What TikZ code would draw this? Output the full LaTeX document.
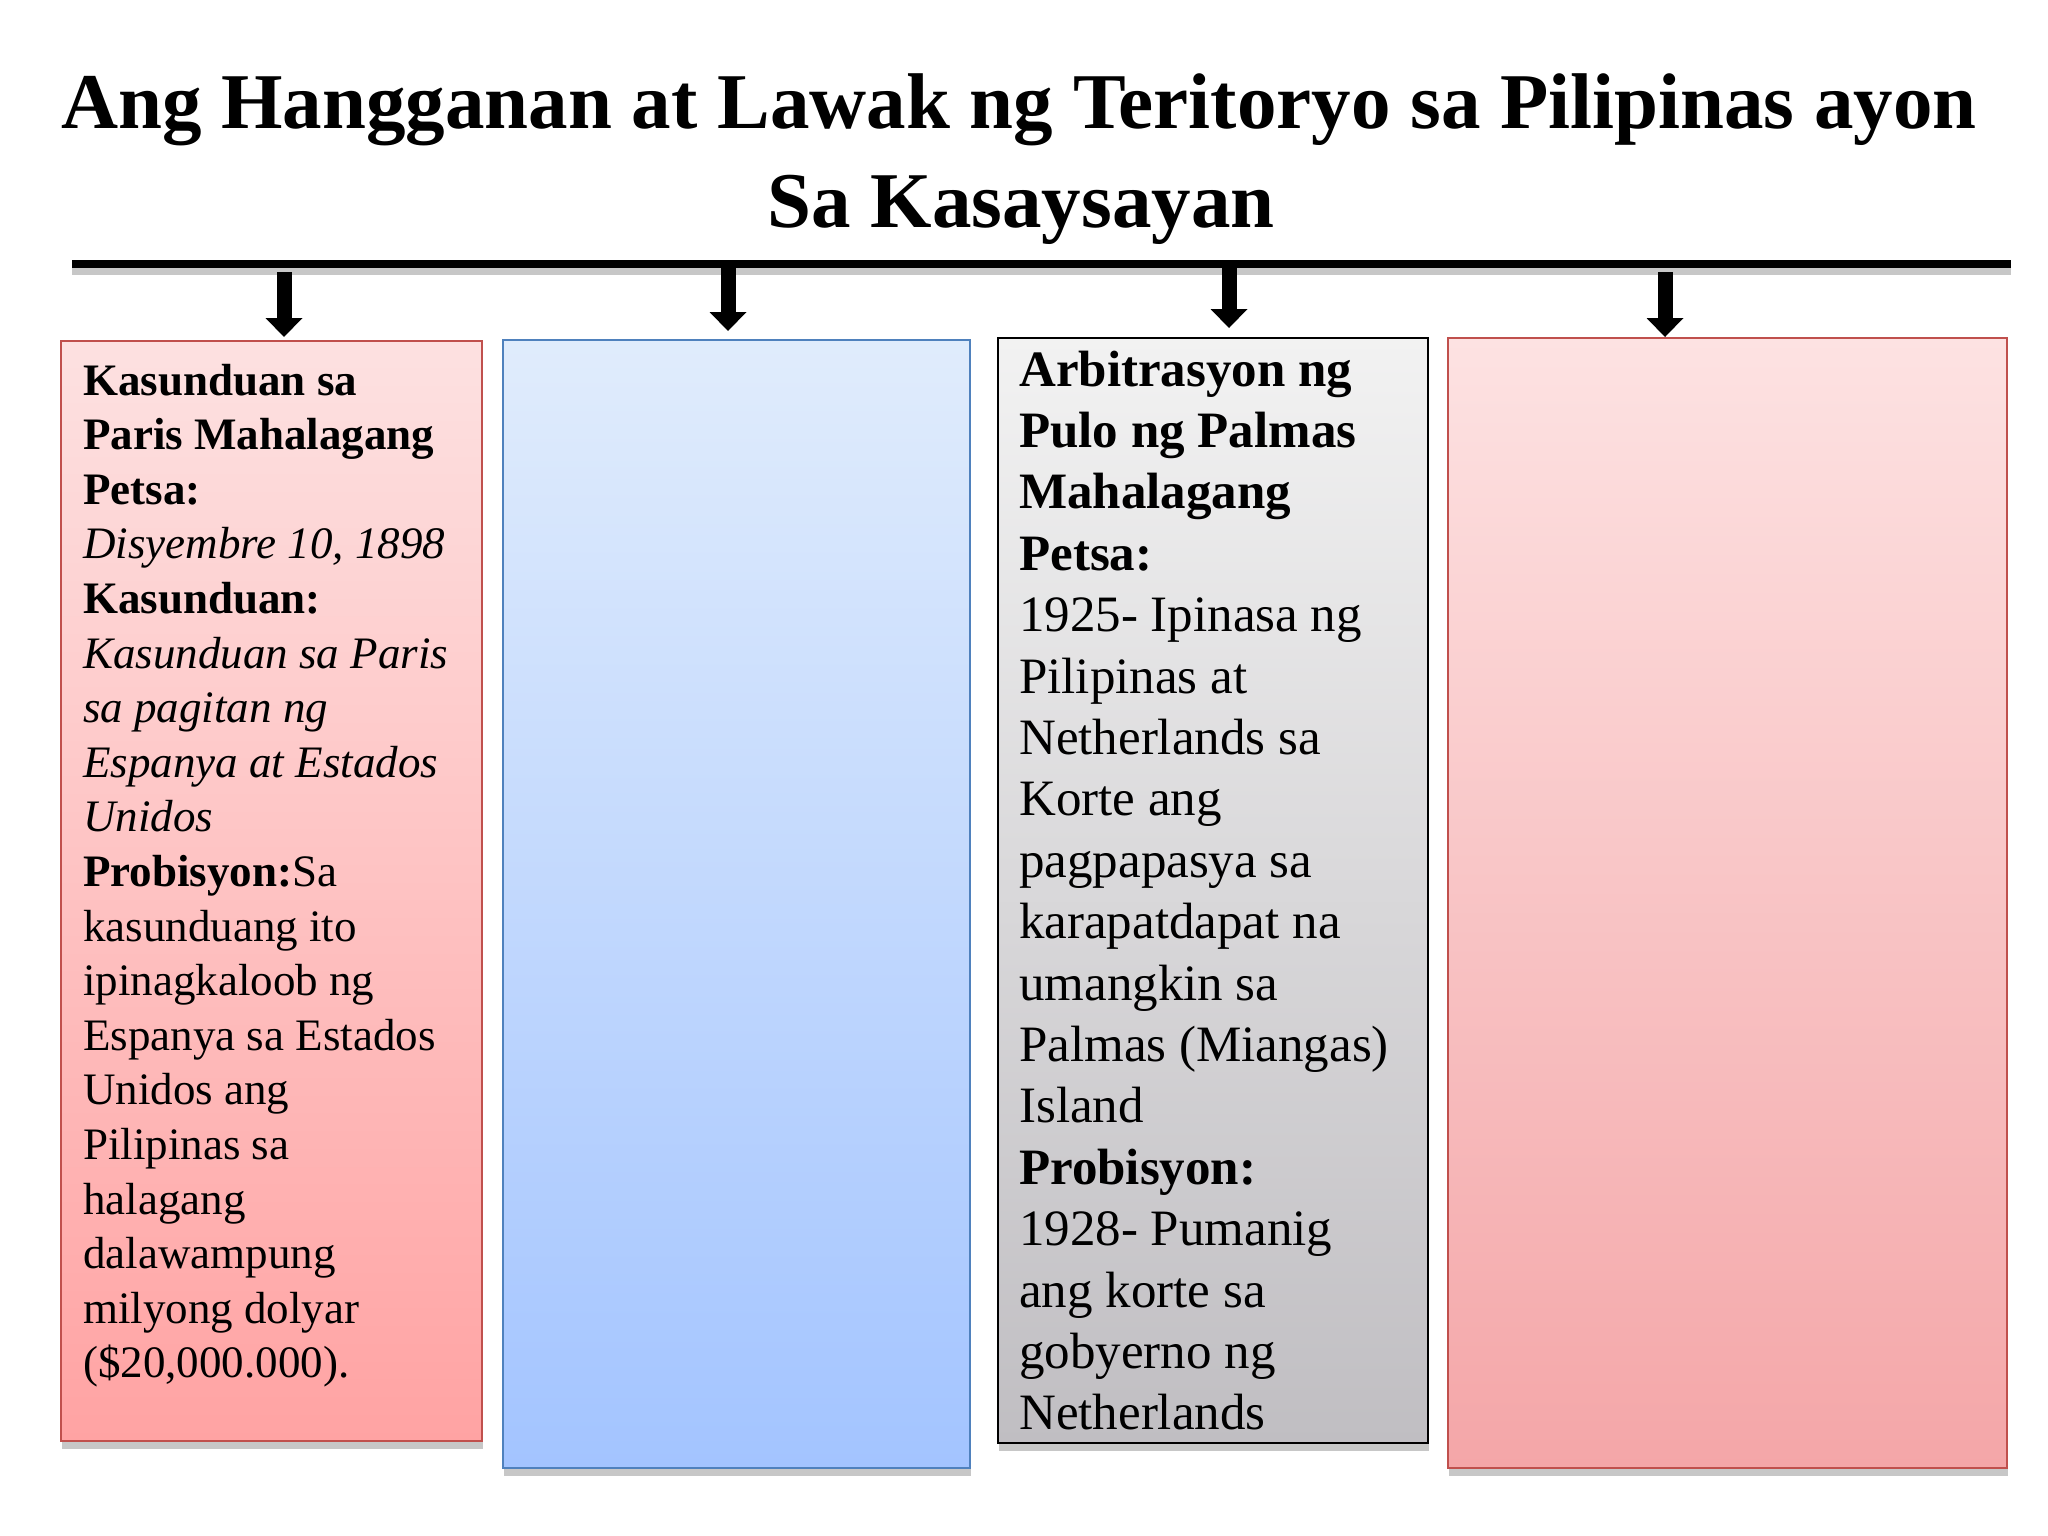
\documentclass[tikz,border=0pt]{standalone}
\usepackage{fontspec}
\setmainfont{Liberation Serif}
\usetikzlibrary{arrows.meta,shadows}
\definecolor{redTop}{RGB}{253,225,225}
\definecolor{redBot}{RGB}{255,163,163}
\definecolor{redLine}{RGB}{192,80,77}
\definecolor{blueTop}{RGB}{224,236,252}
\definecolor{blueBot}{RGB}{163,196,255}
\definecolor{blueLine}{RGB}{79,129,189}
\definecolor{grayTop}{RGB}{242,242,242}
\definecolor{grayBot}{RGB}{192,190,194}
\definecolor{pinkTop}{RGB}{253,226,226}
\definecolor{pinkBot}{RGB}{244,166,168}
\tikzset{
  titletext/.style={inner sep=0pt, font=\fontsize{79pt}{95pt}\selectfont\bfseries},
  panel/.style={rectangle, inner sep=0pt, line width=2pt,
    drop shadow={shadow xshift=1pt, shadow yshift=-8pt, fill=black!40, opacity=0.55}},
  panelA/.style={panel, draw=redLine, top color=redTop, bottom color=redBot},
  panelB/.style={panel, draw=blueLine, top color=blueTop, bottom color=blueBot},
  panelC/.style={panel, draw=black, top color=grayTop, bottom color=grayBot},
  panelD/.style={panel, draw=redLine, top color=pinkTop, bottom color=pinkBot},
  smalltext/.style={anchor=base west, inner sep=0pt, font=\fontsize{45pt}{54.6pt}\selectfont},
  bigtext/.style={anchor=base west, inner sep=0pt, font=\fontsize{51pt}{61.4pt}\selectfont},
  blockarrow/.style={line width=15pt, -{Triangle[width=37pt,length=19pt,line width=0pt]}},
  barline/.style={line width=8pt},
  barshade/.style={line width=7pt, black!22}
}
\begin{document}
\begin{tikzpicture}[x=1pt,y=-1pt]
\fill[white] (0,0) rectangle (2048,1536);
\useasboundingbox (0,0) rectangle (2048,1536);

% title
\node[titletext, anchor=base] (t1) at (1019,129) {Ang Hangganan at Lawak ng Teritoryo sa Pilipinas ayon};
\node[titletext, anchor=base] (t2) at (1021,227) {Sa Kasaysayan};

% bar
\coordinate (barL) at (72,264);
\coordinate (barR) at (2011,264);
\draw[barshade] ([yshift=-7pt]barL) -- ([yshift=-7pt]barR);
\draw[barline] (barL) -- (barR);

% panels
\node[panelA, minimum width=421pt, minimum height=1100pt] (box1) at (271.5,891) {};
\node[panelB, minimum width=467pt, minimum height=1128pt] (box2) at (736.5,904) {};
\node[panelC, minimum width=430pt, minimum height=1105pt] (box3) at (1213,890.5) {};
\node[panelD, minimum width=559pt, minimum height=1130pt] (box4) at (1727.5,903) {};

% arrows
\coordinate (a1) at (284,272);
\coordinate (a2) at (728,268);
\coordinate (a3) at (1229,268);
\coordinate (a4) at (1665,272);
\draw[blockarrow, shorten >=3pt] (a1) -- (a1 |- box1.north);
\draw[blockarrow, shorten >=8pt] (a2) -- (a2 |- box2.north);
\draw[blockarrow, shorten >=9pt] (a3) -- (a3 |- box3.north);
\draw[blockarrow, shorten >=0pt] (a4) -- (a4 |- box4.north);

% texts
\node[smalltext] (txt1) at (83,395) {\begin{tabular}[t]{@{}l@{}}
\textbf{Kasunduan sa}\\
\textbf{Paris Mahalagang}\\
\textbf{Petsa:}\\
\textit{Disyembre 10, 1898}\\
\textbf{Kasunduan:}\\
\textit{Kasunduan sa Paris}\\
\textit{sa pagitan ng}\\
\textit{Espanya at Estados}\\
\textit{Unidos}\\
\textbf{Probisyon:}Sa\\
kasunduang ito\\
ipinagkaloob ng\\
Espanya sa Estados\\
Unidos ang\\
Pilipinas sa\\
halagang\\
dalawampung\\
milyong dolyar\\
(\$20,000.000).
\end{tabular}};

\node[bigtext] (txt3) at (1019,386) {\begin{tabular}[t]{@{}l@{}}
\textbf{Arbitrasyon ng}\\
\textbf{Pulo ng Palmas}\\
\textbf{Mahalagang}\\
\textbf{Petsa:}\\
1925- Ipinasa ng\\
Pilipinas at\\
Netherlands sa\\
Korte ang\\
pagpapasya sa\\
karapatdapat na\\
umangkin sa\\
Palmas (Miangas)\\
Island\\
\textbf{Probisyon:}\\
1928- Pumanig\\
ang korte sa\\
gobyerno ng\\
Netherlands
\end{tabular}};
\end{tikzpicture}
\end{document}
